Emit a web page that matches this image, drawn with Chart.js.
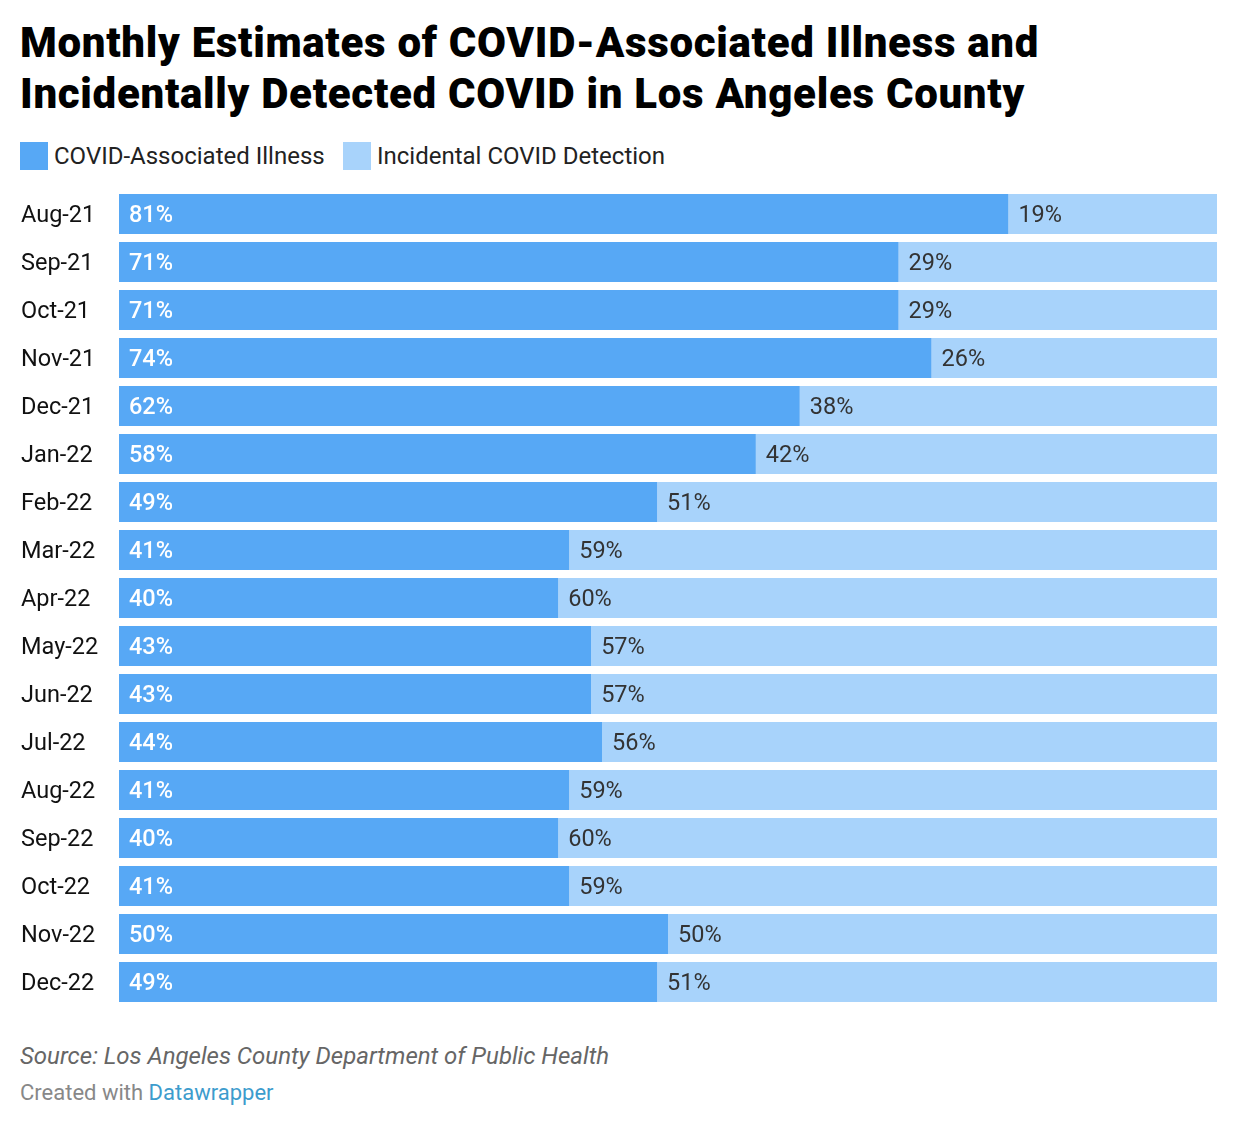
<!DOCTYPE html>
<html>
<head>
<meta charset="utf-8">
<script src="https://cdn.jsdelivr.net/npm/chart.js@4/dist/chart.umd.min.js"></script>
<style>
  html, body { margin: 0; padding: 0; background: #fff; }
  body { width: 1238px; height: 1124px; position: relative; font-family: Roboto, sans-serif; overflow: hidden; }
  #title { position: absolute; left: 20px; top: 17px; font-size: 42px; font-weight: 900; letter-spacing: 0.7px; line-height: 51px; color: #000; white-space: nowrap; }
  .leg { position: absolute; top: 142px; height: 28px; display: flex; align-items: center; font-size: 24px; color: #222; }
  .sw { width: 28px; height: 28px; margin-right: 6px; }
  #chartBox { position: absolute; left: 0; top: 190px; width: 1238px; height: 816px; }
  #source { position: absolute; left: 20px; top: 1042px; font-size: 24px; font-style: italic; color: #666; }
  #credit { position: absolute; left: 20px; top: 1080px; font-size: 22px; color: #888; }
  #credit span { color: #3d9ccd; }
</style>
</head>
<body>
<div id="title">Monthly Estimates of COVID-Associated Illness and<br>Incidentally Detected COVID in Los Angeles County</div>
<div class="leg" style="left:20px"><div class="sw" style="background:#57a8f5"></div>COVID-Associated Illness</div>
<div class="leg" style="left:343px"><div class="sw" style="background:#a8d3fb"></div>Incidental COVID Detection</div>
<div id="chartBox"><canvas id="c"></canvas></div>
<div id="source">Source: Los Angeles County Department of Public Health</div>
<div id="credit">Created with <span>Datawrapper</span></div>
<script>
const months = ["Aug-21","Sep-21","Oct-21","Nov-21","Dec-21","Jan-22","Feb-22","Mar-22","Apr-22","May-22","Jun-22","Jul-22","Aug-22","Sep-22","Oct-22","Nov-22","Dec-22"];
const illness = [81,71,71,74,62,58,49,41,40,43,43,44,41,40,41,50,49];
const incidental = [19,29,29,26,38,42,51,59,60,57,57,56,59,60,59,50,51];

const labelPlugin = {
  id: 'barLabels',
  afterDatasetsDraw(chart) {
    const ctx = chart.ctx;
    ctx.save();
    ctx.textBaseline = 'middle';
    ctx.textAlign = 'left';
    chart.data.datasets.forEach((ds, di) => {
      const meta = chart.getDatasetMeta(di);
      meta.data.forEach((bar, i) => {
        ctx.fillStyle = di === 0 ? '#ffffff' : '#333333';
        ctx.font = di === 0 ? '500 23.5px Roboto' : '400 23.5px Roboto';
        ctx.fillText(ds.data[i] + '%', bar.base + 10, bar.y + 2);
      });
    });
    ctx.restore();
  }
};

new Chart(document.getElementById('c'), {
  type: 'bar',
  data: {
    labels: months,
    datasets: [
      { label: 'COVID-Associated Illness', data: illness, backgroundColor: '#57a8f5', barPercentage: 40/48, categoryPercentage: 1 },
      { label: 'Incidental COVID Detection', data: incidental, backgroundColor: '#a8d3fb', barPercentage: 40/48, categoryPercentage: 1 }
    ]
  },
  options: {
    indexAxis: 'y',
    responsive: true,
    maintainAspectRatio: false,
    animation: false,
    layout: { padding: { left: 21, right: 21, top: 0, bottom: 0 } },
    plugins: { legend: { display: false }, tooltip: { enabled: false } },
    scales: {
      x: { stacked: true, min: 0, max: 100, display: false },
      y: {
        stacked: true,
        grid: { display: false },
        border: { display: false },
        ticks: { color: '#111', font: { family: 'Roboto', size: 23.5 }, crossAlign: 'far', padding: 0, labelOffset: 2 },
        afterFit(scale) { scale.width = 98; scale.paddingTop = 0; scale.paddingBottom = 0; }
      }
    }
  },
  plugins: [labelPlugin]
});
</script>
</body>
</html>
